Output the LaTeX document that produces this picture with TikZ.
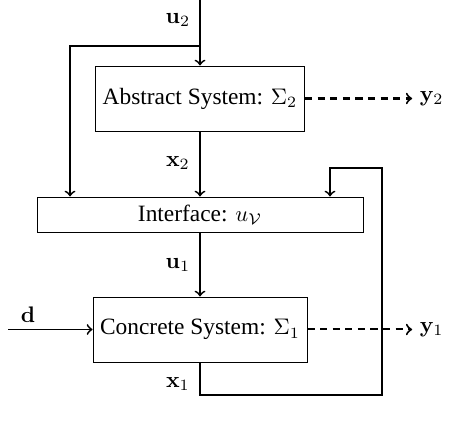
\documentclass[tikz,border=0pt]{standalone}
\usepackage[no-math]{fontspec}
\setmainfont{Liberation Serif}
\begin{document}
\begin{tikzpicture}[>=to,thick,font=\fontsize{10.4pt}{12pt}\selectfont]
  \useasboundingbox (0,0) rectangle (7.406,6.578);
  \begin{scope}[block/.style={draw,thin,inner sep=0cm,minimum height=1.016cm},sig/.style={inner sep=1pt},outsig/.style={->,line width=0.9pt,dash pattern=on 3.2pt off 2.4pt}]
    % the three blocks
    \node[block,minimum width=3.266cm] (abs) at (3.125,5.039) {Abstract System: $\Sigma_2$} ;
    \node[block,minimum width=5.094cm,minimum height=0.547cm] (intf) at (3.125,3.227) {Interface: $u_{\mathcal{V}}$} ;
    \node[block,minimum width=3.344cm] (conc) at (3.125,1.43) {Concrete System: $\Sigma_1$} ;

    % signal labels
    \node[sig] (lu2) at (2.78,6.27) {$\mathbf{u}_2$} ;
    \node[sig] (lx2) at (2.78,4.03) {$\mathbf{x}_2$} ;
    \node[sig] (lu1) at (2.78,2.44) {$\mathbf{u}_1$} ;
    \node[sig] (lx1) at (2.78,0.58) {$\mathbf{x}_1$} ;
    \node[sig] (ld) at (0.44,1.656) {$\mathbf{d}$} ;
    \node[sig,anchor=west,inner xsep=3pt] (yout2) at (6.44,5.039) {$\mathbf{y}_2$} ;
    \node[sig,anchor=west,inner xsep=3pt] (yout1) at (6.44,1.43) {$\mathbf{y}_1$} ;

    \coordinate (top) at (3.125,6.578) ;
    \coordinate (br) at (3.125,5.859) ;
    \coordinate (lft) at (1.094,5.859) ;
    \coordinate (din) at (0.125,1.43) ;
    \coordinate (fb1) at (5.969,0.406) ;
    \coordinate (fb2) at (5.156,3.953) ;

    \draw[->] (top) -- (abs.north) ;
    \draw[->] (br) -- (lft) -- (lft |- intf.north) ;
    \draw[->] (abs.south) -- (abs.south |- intf.north) ;
    \draw[->] (intf.south) -- (conc.north) ;
    \draw[->] (din) -- (conc.west) ;
    \draw[->] (conc.south) |- (fb1) |- (fb2) -- (fb2 |- intf.north) ;
    \draw[outsig] (abs.east) -- (yout2.west) ;
    \draw[outsig] (conc.east) -- (yout1.west) ;
  \end{scope}
\end{tikzpicture}
\end{document}
